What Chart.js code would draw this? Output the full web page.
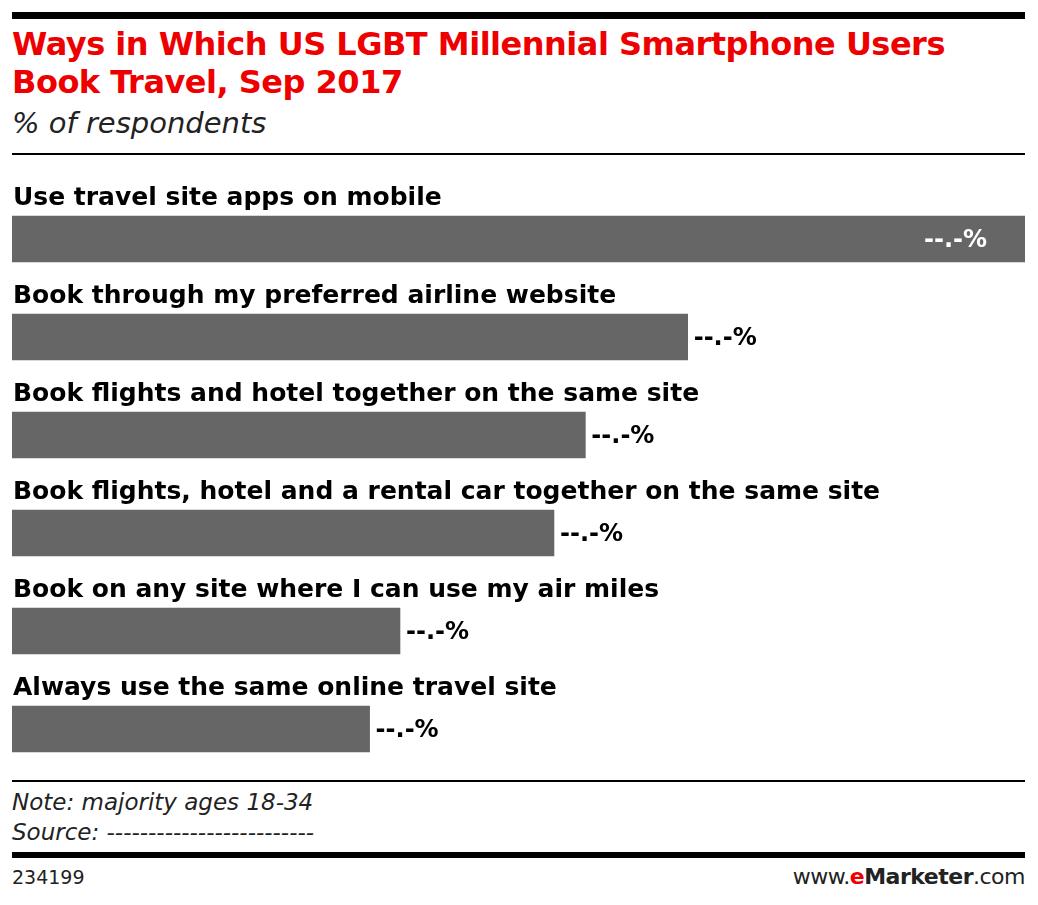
<!DOCTYPE html>
<html><head><meta charset="utf-8">
<script src="https://cdn.jsdelivr.net/npm/chart.js@4"></script>
<style>
body{margin:0;width:1038px;height:905px;background:#fff;font-family:"DejaVu Sans",sans-serif;position:relative;overflow:hidden}
.a{position:absolute;left:12px;right:13px}
</style></head><body>
<div class="a" style="top:12px;height:7px;background:#000"></div>
<div class="a" style="top:25px;color:#e00;font-weight:700;font-size:32px;line-height:38px;letter-spacing:-0.5px">Ways in Which US LGBT Millennial Smartphone Users<br>Book Travel, Sep 2017</div>
<div class="a" style="top:106px;font-style:italic;font-size:29px;color:#222">% of respondents</div>
<div class="a" style="top:153px;height:2px;background:#000"></div>
<div class="a" style="top:160px;height:618px"><canvas id="c"></canvas></div>
<div class="a" style="top:780px;height:2px;background:#000"></div>
<div class="a" style="top:787px;font-style:italic;font-size:23px;line-height:30px;color:#222">Note: majority ages 18-34<br>Source: -------------------------</div>
<div class="a" style="top:852px;height:6px;background:#000"></div>
<div class="a" style="top:866px;font-size:19px;color:#222">234199</div>
<div class="a" style="top:864px;text-align:right;font-size:22px;color:#222;letter-spacing:-0.5px">www.<b style="color:#e00">e</b><b>Marketer</b>.com</div>
<script>
const categories=["Use travel site apps on mobile","Book through my preferred airline website","Book flights and hotel together on the same site","Book flights, hotel and a rental car together on the same site","Book on any site where I can use my air miles","Always use the same online travel site"];
const values=[100,66.7,56.6,53.5,38.3,35.3];
const valueLabels=["--.-%","--.-%","--.-%","--.-%","--.-%","--.-%"];
const lab={id:'lab',afterDatasetsDraw(ch){const c=ch.ctx;const m=ch.getDatasetMeta(0);c.save();
m.data.forEach((b,i)=>{c.font='bold 25px "DejaVu Sans"';c.fillStyle='#000';c.textAlign='left';c.textBaseline='alphabetic';
c.fillText(categories[i],ch.chartArea.left+1,b.y-b.height/2-11);
c.font='bold 24px "DejaVu Sans"';c.textBaseline='middle';
if(i===0){c.fillStyle='#fff';c.textAlign='right';c.fillText(valueLabels[i],b.x-38,b.y+2);}
else{c.fillStyle='#000';c.textAlign='left';c.fillText(valueLabels[i],b.x+6,b.y+2);}});c.restore();}};
new Chart(document.getElementById('c'),{type:'bar',data:{labels:categories,datasets:[{data:values,backgroundColor:'#666',barThickness:46}]},
options:{indexAxis:'y',responsive:true,maintainAspectRatio:false,animation:false,layout:{padding:{top:30,left:0,right:0,bottom:0}},
plugins:{legend:{display:false},tooltip:{enabled:false}},
scales:{x:{display:false,min:0,max:100},y:{display:false}}},plugins:[lab]});
</script></body></html>
